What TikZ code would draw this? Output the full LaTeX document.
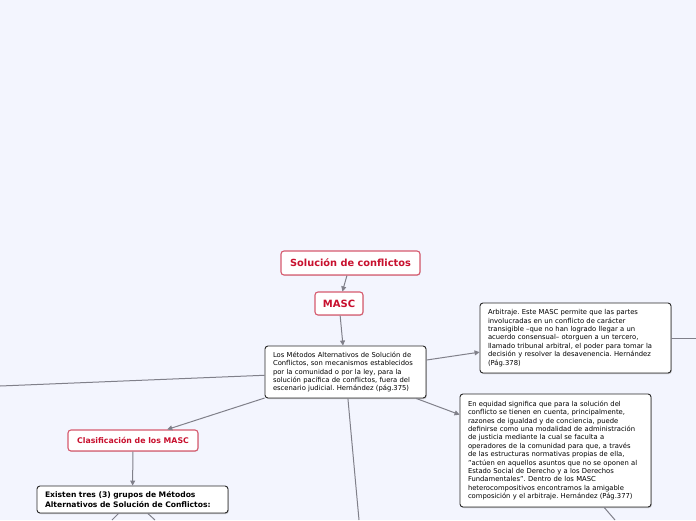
\documentclass[tikz,border=0pt]{standalone}
\usepackage{fontspec}
\setmainfont{DejaVu Sans}
\usetikzlibrary{arrows.meta,shadows}
\definecolor{bg}{RGB}{243,245,254}
\definecolor{redtxt}{RGB}{200,16,46}
\definecolor{redborder}{RGB}{214,90,110}
\definecolor{edgecol}{RGB}{128,128,138}
\definecolor{boxborder}{RGB}{40,40,40}
\frenchspacing
\begin{document}
\begin{tikzpicture}[x=1pt,y=-1pt,
 redbox/.style={draw=redborder,line width=1.1pt,rounded corners=3pt,fill=white,text=redtxt,
   inner sep=0pt,drop shadow={shadow xshift=0.6pt,shadow yshift=-0.8pt,fill=black!25}},
 txtbox/.style={draw=boxborder,line width=0.9pt,rounded corners=3pt,fill=white,text=black,
   font=\fontsize{6.8}{8.4}\selectfont,align=left,inner xsep=8pt,inner ysep=0pt,
   drop shadow={shadow xshift=0.8pt,shadow yshift=-1pt,fill=black!45}},
 conn/.style={draw=edgecol,line width=1pt},
 arr/.style={conn,-{Triangle[length=5pt,width=5pt]}}
]
\useasboundingbox (0,0) rectangle (696,520);
\fill[bg] (0,0) rectangle (696,520);
\clip (0,0) rectangle (696,520);

\node[redbox,minimum width=139pt,minimum height=24pt,font=\bfseries\fontsize{9.8}{11}\selectfont] (sol) at (350.5,263) {Solución de conflictos};
\node[redbox,minimum width=48pt,minimum height=23pt,font=\bfseries\fontsize{10}{11}\selectfont] (masc) at (339,303.5) {MASC};
\node[txtbox,text width=145pt,minimum height=52pt] (main) at (345.5,372) {Los Métodos Alternativos de Solución de\\Conflictos, son mecanismos establecidos\\por la comunidad o por la ley, para la\\solución pacífica de conflictos, fuera del\\escenario judicial. Hernández (pág.375)};
\node[txtbox,text width=175pt,minimum height=70pt] (arb) at (575.5,338) {Arbitraje. Este MASC permite que las partes\\involucradas en un conflicto de carácter\\transigible –que no han logrado llegar a un\\acuerdo consensual– otorguen a un tercero,\\llamado tribunal arbitral, el poder para tomar la\\decisión y resolver la desavenencia. Hernández\\(Pág.378)};
\node[txtbox,text width=175pt,minimum height=113pt] (equ) at (555.5,450.5) {En equidad significa que para la solución del\\conflicto se tienen en cuenta, principalmente,\\razones de igualdad y de conciencia, puede\\definirse como una modalidad de administración\\de justicia mediante la cual se faculta a\\operadores de la comunidad para que, a través\\de las estructuras normativas propias de ella,\\"actúen en aquellos asuntos que no se oponen al\\Estado Social de Derecho y a los Derechos\\Fundamentales". Dentro de los MASC\\heterocompositivos encontramos la amigable\\composición y el arbitraje. Hernández (Pág.377)};
\node[redbox,minimum width=130pt,minimum height=21pt,font=\bfseries\fontsize{7.8}{9}\selectfont] (clas) at (133,440.5) {Clasificación de los MASC};
\node[txtbox,text width=175pt,minimum height=27pt,font=\bfseries\fontsize{7.6}{9.3}\selectfont] (exist) at (132.5,499.5) {Existen tres (3) grupos de Métodos\\Alternativos de Solución de Conflictos:};

\coordinate (leftend) at (0,386);
\coordinate (botend) at (359,520);
\coordinate (rightend) at (696,338);
\coordinate (equend) at (615,520);
\coordinate (exend1) at (112,520);
\coordinate (exend2) at (155,520);

\draw[arr] (sol) -- (masc);
\draw[arr] (masc) -- (main);
\draw[arr] (main) -- (arb);
\draw[arr] (main) -- (equ);
\draw[arr] (main) -- (clas);
\draw[arr] (clas) -- (exist);
\draw[conn] (main) -- (leftend);
\draw[conn] (main) -- (botend);
\draw[conn] (arb) -- (rightend);
\draw[conn] (equ) -- (equend);
\draw[conn] (exist) -- (exend1);
\draw[conn] (exist) -- (exend2);
\end{tikzpicture}
\end{document}
